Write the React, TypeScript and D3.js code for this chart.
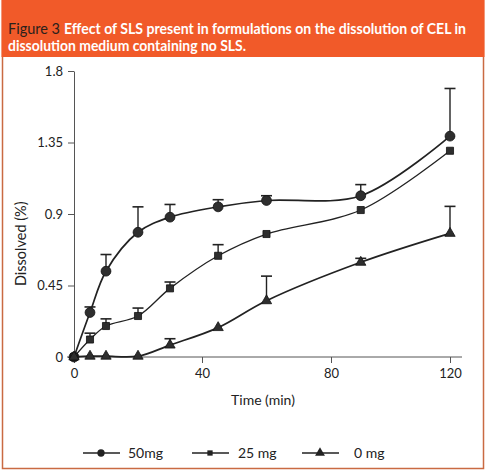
import * as d3 from 'd3'
import { useEffect, useRef } from 'react'

// sampling times (min) and dissolved (%) per SLS level
const times = [0, 5, 10, 20, 30, 45, 60, 90, 120]
const mg50 = [0, 0.28, 0.54, 0.785, 0.88, 0.945, 0.985, 1.015, 1.39]
const mg50Err = [0, 0.035, 0.105, 0.16, 0.08, 0.045, 0.03, 0.07, 0.3]
const mg25 = [0, 0.11, 0.195, 0.258, 0.432, 0.637, 0.774, 0.925, 1.298]
const mg25Err = [0, 0.04, 0.045, 0.05, 0.04, 0.07, 0, 0, 0]
const mg0 = [0, 0.005, 0.005, 0.005, 0.075, 0.185, 0.354, 0.596, 0.778]
const mg0Err = [0, 0, 0, 0, 0.04, 0, 0.155, 0.025, 0.17]

const xTicks = [0, 40, 80, 120]
const yTicks = [0, 0.45, 0.9, 1.35, 1.8]

const seriesNames = ['50mg', '25 mg', '0 mg']
const titleLead = 'Figure 3'
const titleRest = 'Effect of SLS present in formulations on the dissolution of CEL in'
const titleLine2 = 'dissolution medium containing no SLS.'

type Series = {
  name: string
  values: number[]
  errs: number[]
  symbol: d3.SymbolType
  size: number
  legendSize: number
  width: number
}

const series: Series[] = [
  { name: seriesNames[0], values: mg50, errs: mg50Err, symbol: d3.symbolCircle, size: 76, legendSize: 42, width: 1.7 },
  { name: seriesNames[1], values: mg25, errs: mg25Err, symbol: d3.symbolSquare, size: 50, legendSize: 28, width: 1.3 },
  { name: seriesNames[2], values: mg0, errs: mg0Err, symbol: d3.symbolTriangle, size: 46, legendSize: 42, width: 1.7 },
]

const W = 488
const H = 473
const FONT = 'Lato, "Open Sans", sans-serif'
const ORANGE = '#f15a29'
const INK = '#222'

export default function App() {
  const svgRef = useRef<SVGSVGElement | null>(null)

  useEffect(() => {
    if (!svgRef.current) return
    const svg = d3.select(svgRef.current)
    svg.selectAll('*').remove()

    // frame + header band
    svg.append('rect').attr('x', 2.5).attr('y', 0.5).attr('width', 481).attr('height', 468)
      .attr('fill', '#fff').attr('stroke', '#c96a42').attr('stroke-width', 1.5)
    svg.append('rect').attr('x', 1.5).attr('y', 0).attr('width', 483).attr('height', 57).attr('fill', ORANGE)

    svg.append('text').attr('x', 8).attr('y', 34).attr('font-family', FONT).attr('font-size', 15)
      .attr('fill', '#2b211c').attr('textLength', 52).attr('lengthAdjust', 'spacingAndGlyphs')
      .text(titleLead)
    svg.append('text').attr('x', 64).attr('y', 34).attr('font-family', FONT).attr('font-size', 15)
      .attr('font-weight', 700).attr('fill', '#fff').attr('textLength', 402).attr('lengthAdjust', 'spacingAndGlyphs')
      .text(titleRest)
    svg.append('text').attr('x', 8).attr('y', 51).attr('font-family', FONT).attr('font-size', 15)
      .attr('font-weight', 700).attr('fill', '#fff').attr('textLength', 238).attr('lengthAdjust', 'spacingAndGlyphs')
      .text(titleLine2)

    // the original axis is slightly uneven, so map through its tick positions
    const x = d3.scaleLinear().domain([0, 40, 80, 120]).range([74, 202, 331, 450])
    const y = d3.scaleLinear().domain([0, 1.8]).range([357, 71])

    const g = svg.append('g')

    // y axis
    const ya = g.append('g').attr('transform', `translate(${x(0)},0)`)
      .call(d3.axisLeft(y).tickValues(yTicks).tickSize(6).tickSizeOuter(0).tickFormat(d => String(d)))
    ya.select('.domain').attr('stroke', '#555')
    ya.selectAll('.tick line').attr('stroke', '#555')
    ya.selectAll('.tick text').attr('font-family', FONT).attr('font-size', 13).attr('fill', INK).attr('dx', -2)

    // x axis, line runs a bit past both ends
    const xa = g.append('g').attr('transform', `translate(0,${y(0)})`)
      .call(d3.axisBottom(x).tickValues(xTicks).tickSize(6).tickSizeOuter(0).tickFormat(d => String(d)))
    xa.select('.domain').remove()
    xa.append('line').attr('x1', x(0) - 7).attr('x2', x(120) + 12).attr('stroke', '#555')
    xa.selectAll('.tick line').attr('stroke', '#555')
    xa.selectAll('.tick text').attr('font-family', FONT).attr('font-size', 13).attr('fill', INK).attr('dy', '0.9em')

    g.append('text').attr('x', 263).attr('y', 405).attr('text-anchor', 'middle')
      .attr('font-family', FONT).attr('font-size', 14).attr('fill', INK).text('Time (min)')
    g.append('text').attr('transform', `translate(26,${(y(0.45) + y(0.9)) / 2 - 6}) rotate(-90)`)
      .attr('text-anchor', 'middle').attr('font-family', FONT).attr('font-size', 14.5).attr('fill', INK)
      .text('Dissolved (%)')

    const line = d3.line<number>()
      .x((_, i) => x(times[i]))
      .y(d => y(d))
      .curve(d3.curveCatmullRom.alpha(0.5))

    for (const s of series) {
      g.append('path').datum(s.values).attr('fill', 'none').attr('stroke', INK)
        .attr('stroke-width', s.width).attr('d', line)
    }

    // error bars (upper only)
    for (const s of series) {
      s.values.forEach((v, i) => {
        const e = s.errs[i]
        if (!e) return
        const cx = x(times[i])
        g.append('line').attr('x1', cx).attr('x2', cx).attr('y1', y(v)).attr('y2', y(v + e))
          .attr('stroke', INK).attr('stroke-width', 1.4)
        g.append('line').attr('x1', cx - 5.5).attr('x2', cx + 5.5).attr('y1', y(v + e)).attr('y2', y(v + e))
          .attr('stroke', INK).attr('stroke-width', 1.6)
      })
    }

    for (const s of series) {
      const sym = d3.symbol(s.symbol, s.size)
      s.values.forEach((v, i) => {
        g.append('path').attr('d', sym()).attr('transform', `translate(${x(times[i])},${y(v)})`)
          .attr('fill', '#2e2e2e').attr('stroke', '#111').attr('stroke-width', 0.8)
      })
    }

    // legend
    const legendX = [83, 192, 302]
    const legendTextX = [128, 238, 354]
    const ly = 453
    series.forEach((s, i) => {
      g.append('line').attr('x1', legendX[i]).attr('x2', legendX[i] + 37).attr('y1', ly).attr('y2', ly)
        .attr('stroke', INK).attr('stroke-width', 1.4)
      g.append('path').attr('d', d3.symbol(s.symbol, s.legendSize)())
        .attr('transform', `translate(${legendX[i] + 18},${ly})`).attr('fill', '#222')
      g.append('text').attr('x', legendTextX[i]).attr('y', ly + 5).attr('font-family', FONT)
        .attr('font-size', 14).attr('fill', INK).text(s.name)
    })
  }, [])

  return (
    <svg ref={svgRef} width={W} height={H} viewBox={`0 0 ${W} ${H}`}
      style={{ position: 'absolute', left: 0, top: 0, background: '#fff' }} />
  )
}
